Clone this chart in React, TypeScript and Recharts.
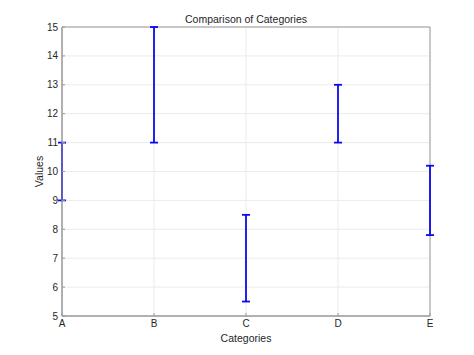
import React from 'react';
import { ComposedChart, Scatter, ErrorBar, XAxis, YAxis, CartesianGrid, ReferenceArea } from 'recharts';

const categories = ['A', 'B', 'C', 'D', 'E'];
const lowValues = [9, 11, 5.5, 11, 7.8];
const highValues = [11, 15, 8.5, 13, 10.2];
const yTicks = [5, 6, 7, 8, 9, 10, 11, 12, 13, 14, 15];
const xTicks = [0, 1, 2, 3, 4];
const title = 'Comparison of Categories';

const data = categories.map((c, i) => ({
  x: i,
  name: c,
  mid: (lowValues[i] + highValues[i]) / 2,
  err: (highValues[i] - lowValues[i]) / 2,
}));

const FONT = '"Liberation Sans", Arial, Helvetica, sans-serif';
const TEXT = '#262626';
const AXIS = '#9a9a9a';

const XLabel = (props: any) => {
  const vb = props.viewBox || {};
  const cx = vb.x + vb.width / 2;
  return (
    <text x={cx} y={vb.y + 26} textAnchor="middle" fontSize={10.5} fill={TEXT} fontFamily={FONT}>
      Categories
    </text>
  );
};

const YLabel = (props: any) => {
  const vb = props.viewBox || {};
  const cx = vb.x + 43;
  const cy = vb.y + vb.height / 2;
  return (
    <text
      x={cx}
      y={cy}
      transform={`rotate(-90 ${cx} ${cy})`}
      textAnchor="middle"
      fontSize={10.5}
      fill={TEXT}
      fontFamily={FONT}
    >
      Values
    </text>
  );
};

export default function App() {
  return (
    <div style={{ position: 'absolute', left: 0, top: 0, width: 474, height: 355, background: '#fff' }}>
      <div
        style={{
          position: 'absolute',
          left: 62,
          width: 368,
          top: 12,
          textAlign: 'center',
          fontFamily: FONT,
          fontSize: 10.5,
          lineHeight: '14px',
          color: TEXT,
        }}
      >
        {title}
      </div>
      <ComposedChart
        width={474}
        height={355}
        data={data}
        margin={{ top: 27, right: 44, bottom: 0, left: 0 }}
        style={{ fontFamily: FONT }}
      >
        <CartesianGrid xAxisId="bottom" yAxisId="left" stroke="#ebebeb" strokeWidth={1} />
        <ReferenceArea
          xAxisId="bottom"
          yAxisId="left"
          x1={0}
          x2={4}
          y1={5}
          y2={15}
          fill="none"
          fillOpacity={0}
          stroke={AXIS}
          strokeWidth={1}
          ifOverflow="visible"
        />
        <XAxis
          xAxisId="bottom"
          dataKey="x"
          type="number"
          domain={[0, 4]}
          ticks={xTicks}
          interval={0}
          tickFormatter={(v: number) => categories[v]}
          height={39}
          stroke={AXIS}
          tickSize={-3}
          tickMargin={7}
          tick={{ fill: TEXT, fontSize: 10 }}
          label={<XLabel />}
        />
        <YAxis
          yAxisId="left"
          type="number"
          domain={[5, 15]}
          ticks={yTicks}
          interval={0}
          width={62}
          stroke={AXIS}
          tickSize={-3}
          tickMargin={7}
          tick={{ fill: TEXT, fontSize: 10 }}
          label={<YLabel />}
        />
        <Scatter
          xAxisId="bottom"
          yAxisId="left"
          dataKey="mid"
          fill="none"
          isAnimationActive={false}
          shape={() => <g />}
        >
          <ErrorBar dataKey="err" direction="y" width={4} stroke="#0a0af0" strokeWidth={1.8} isAnimationActive={false} />
        </Scatter>
      </ComposedChart>
    </div>
  );
}
